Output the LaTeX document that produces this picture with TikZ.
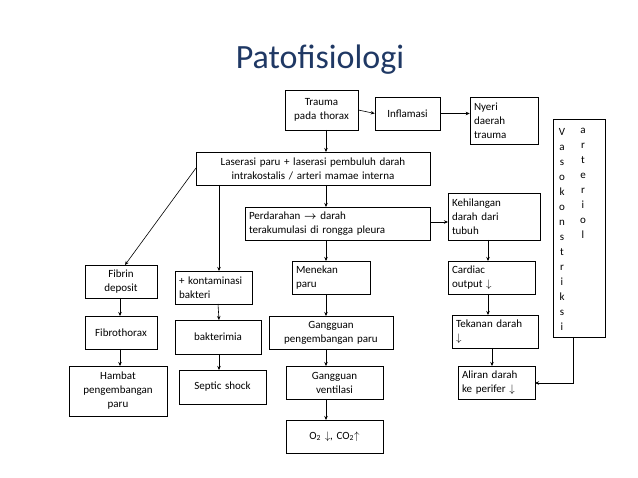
\documentclass[tikz,border=0pt]{standalone}
\usepackage{amsmath}
\usepackage{fontspec}
\setmainfont{Carlito}
\usetikzlibrary{arrows.meta}
\newcommand\mybx[7]{%
  \pgfmathsetmacro\bw{#4-#2}\pgfmathsetmacro\bh{#5-#3}%
  \pgfmathsetmacro\tw{#4-#2-8}%
  \node[box,minimum width=\bw pt,minimum height=\bh pt,text width=\tw pt,align=#6] (#1) at ({(#2+#4)/2},{(#3+#5)/2}) {#7};}
\begin{document}
\begin{tikzpicture}[x=1pt,y=-1pt,
  box/.style={draw,line width=0.6pt,inner xsep=4pt,inner ysep=1pt,font=\fontsize{11}{14}\selectfont},
  arr/.style={-{Stealth[length=4pt,width=3.5pt]},line width=0.6pt}]
\useasboundingbox (0,0) rectangle (638,478);
\node (title) at (320,60) {\fontsize{34}{40}\selectfont\color[RGB]{31,56,100}Patofisiologi};
\mybx{trauma}{285}{90}{358}{130}{center}{Trauma\\pada thorax}
\mybx{infl}{375}{97}{440}{130}{center}{Inflamasi}
\mybx{nyeri}{470}{97}{538}{144}{left}{Nyeri\\daerah\\trauma}
\mybx{vaso}{553}{119}{605}{337}{left}{}
\node[font=\fontsize{11}{15}\selectfont,align=center,anchor=north] (vc1) at (562,125) {V\\a\\s\\o\\k\\o\\n\\s\\t\\r\\i\\k\\s\\i};
\node[font=\fontsize{11}{15}\selectfont,align=center,anchor=north] (vc2) at (583,125) {a\\r\\t\\e\\r\\i\\o\\l};
\mybx{las}{196}{152}{430}{185}{center}{Laserasi paru + laserasi pembuluh darah\\intrakostalis / arteri mamae interna}
\mybx{perd}{245}{207}{430}{240}{left}{Perdarahan $\boldsymbol{\rightarrow}$ darah\\terakumulasi di rongga pleura}
\mybx{kehil}{448}{193}{540}{240}{left}{Kehilangan\\darah dari\\tubuh}
\mybx{card}{448}{261}{535}{294}{left}{Cardiac\\output $\downarrow$}
\mybx{tek}{452}{315}{538}{348}{left}{Tekanan darah\\$\downarrow$}
\mybx{alir}{458}{366}{535}{399}{left}{Aliran darah\\ke perifer $\downarrow$}
\mybx{fibrin}{85}{265}{157}{298}{center}{Fibrin\\deposit}
\mybx{fibro}{85}{316}{157}{349}{center}{Fibrothorax}
\mybx{hamb}{69}{366}{167}{416}{center}{Hambat\\pengembangan\\paru}
\mybx{kont}{175}{271}{252}{304}{left}{+ kontaminasi\\bakteri}
\mybx{bakt}{175}{320}{261}{354}{center}{bakterimia}
\mybx{sept}{179}{370}{266}{404}{center}{Septic shock}
\mybx{menek}{292}{261}{370}{294}{left}{Menekan\\paru}
\mybx{gpeng}{269}{316}{393}{349}{center}{Gangguan\\pengembangan paru}
\mybx{gvent}{286}{366}{383}{399}{center}{Gangguan\\ventilasi}
\mybx{oo}{286}{420}{383}{453}{center}{O\textsubscript{2} $\downarrow$, CO\textsubscript{2}$\uparrow$}
\draw[arr] (trauma.east) -- (infl.west);
\draw[arr] (infl.east) -- (infl.east -| nyeri.west);
\draw[arr] (326,130) -- (326,152);
\draw[arr] (196,168) -- (125,265);
\draw[arr] (219,185) -- (219,271);
\draw[arr] (326,185) -- (326,207);
\draw[arr] (430,222) -- (448,222);
\draw[arr] (488,240) -- (488,261);
\draw[arr] (488,294) -- (488,315);
\draw[arr] (492,348) -- (492,366);
\coordinate (vb) at (573,383);
\draw[arr] (573,337) -- (vb) -- (535,383);
\draw[arr] (120,298) -- (120,316);
\draw[arr] (120,349) -- (120,366);
\draw[arr] (218,304) -- (219,320);
\draw[arr] (219,354) -- (219,370);
\draw[arr] (326,240) -- (326,261);
\draw[arr] (326,294) -- (326,316);
\draw[arr] (326,349) -- (326,366);
\draw[arr] (326,399) -- (326,420);
\end{tikzpicture}
\end{document}
